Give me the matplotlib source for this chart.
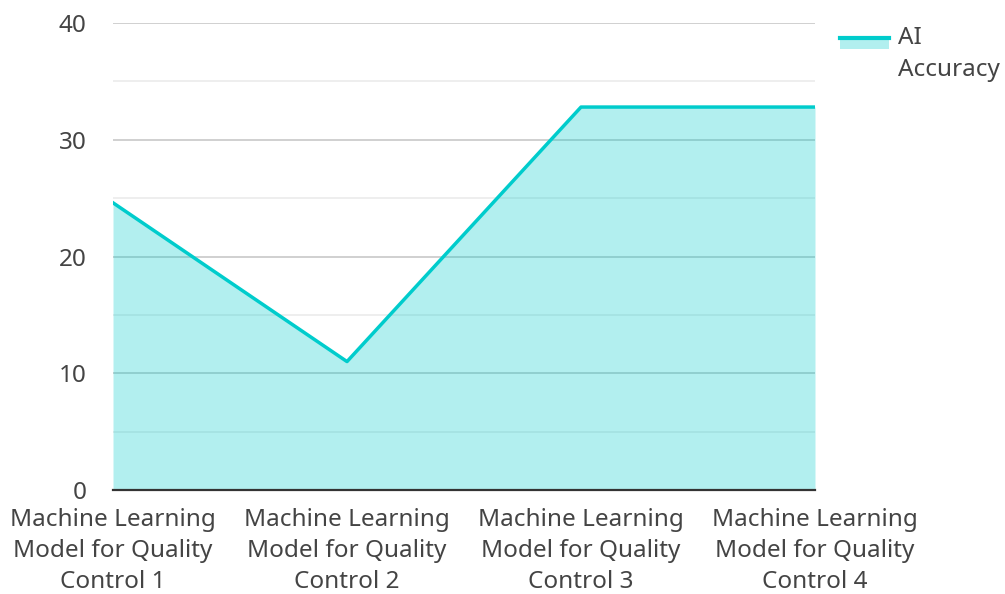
import matplotlib.pyplot as plt
from matplotlib.patches import Rectangle
from matplotlib.lines import Line2D
from matplotlib.legend_handler import HandlerBase

plt.rcParams['font.family'] = ['Noto Sans', 'DejaVu Sans']

categorias = ["Machine Learning\nModel for Quality\nControl 1",
              "Machine Learning\nModel for Quality\nControl 2",
              "Machine Learning\nModel for Quality\nControl 3",
              "Machine Learning\nModel for Quality\nControl 4"]
precision = [24.6, 11.0, 32.8, 32.8]
ticks_y = [0, 10, 20, 30, 40]
ticks_menores = [5, 15, 25, 35]

color_linea = '#00cccc'
color_texto = '#444444'
tam = 17.5


class HandlerArea(HandlerBase):
    # parche relleno con la linea arriba, alineado con la primera linea del texto
    def create_artists(self, legend, orig, xd, yd, w, h, fontsize, trans):
        centro = yd + h / 2
        tope = centro + 0.70 * fontsize
        base = centro + 0.21 * fontsize
        p = Rectangle((xd, base), w, tope - base, facecolor=color_linea,
                      alpha=0.3, edgecolor='none', transform=trans)
        l = Line2D([xd, xd + w], [tope, tope], color=color_linea,
                   lw=3, transform=trans)
        return [p, l]


fig = plt.figure(figsize=(10.05, 5.94), dpi=100)
ax = fig.add_axes([113 / 1005, 1 - 490 / 594, 702 / 1005, 467 / 594])

x = list(range(len(categorias)))
ax.fill_between(x, precision, 0, color=color_linea, alpha=0.3, lw=0, zorder=2)
linea, = ax.plot(x, precision, color=color_linea, lw=2.5, zorder=3)

ax.set_xlim(0, 3)
ax.set_ylim(0, 40)
ax.set_yticks(ticks_y)
ax.set_yticks(ticks_menores, minor=True)
ax.set_xticks(x)
ax.set_xticklabels(categorias, fontsize=tam, color=color_texto, linespacing=1.4)
ax.tick_params(axis='y', which='major', length=0, pad=19, labelsize=tam, labelcolor=color_texto)
ax.tick_params(axis='y', which='minor', length=0)
ax.tick_params(axis='x', length=0, pad=13)
ax.grid(axis='y', which='major', color='#c8c8c8', lw=1.2, zorder=1)
ax.grid(axis='y', which='minor', color='#ebebeb', lw=1.2, zorder=1)
ax.set_axisbelow(True)

for s in ['left', 'right', 'top']:
    ax.spines[s].set_visible(False)
ax.spines['bottom'].set_color('#333333')
ax.spines['bottom'].set_linewidth(1.6)
ax.spines['bottom'].set_zorder(4)

leg = ax.legend([linea], ["AI\nAccuracy"], handler_map={linea: HandlerArea()},
                loc='upper left', bbox_to_anchor=(840 / 1005, 1 - 26 / 594),
                bbox_transform=fig.transFigure, frameon=False, fontsize=tam,
                labelcolor=color_texto, handlelength=2.0, handleheight=0.7,
                handletextpad=0.4, borderaxespad=0, borderpad=0)
leg.get_texts()[0].set_linespacing(1.45)

fig.savefig('out.png', dpi=100)
